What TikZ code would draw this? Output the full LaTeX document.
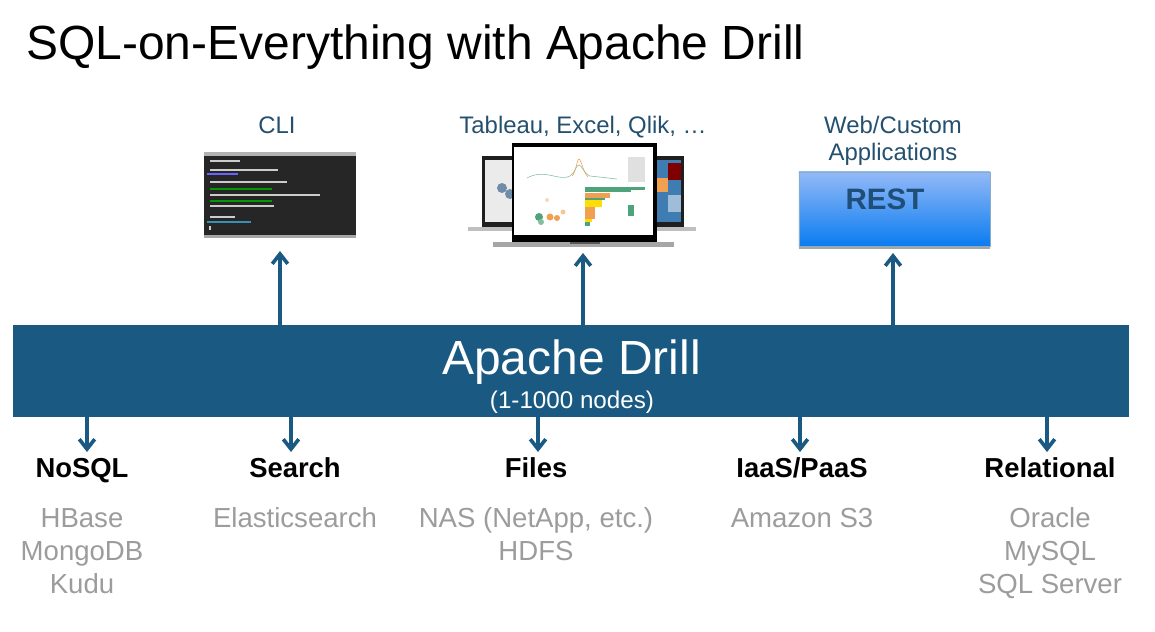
\documentclass[tikz,border=0pt]{standalone}
\usepackage{fontspec}
\setmainfont{Liberation Sans}
\usetikzlibrary{shadows, arrows.meta}
\definecolor{drillblue}{HTML}{1A5A82}
\definecolor{capblue}{HTML}{24506F}
\definecolor{itemgray}{HTML}{9C9C9C}
\definecolor{restblue}{HTML}{1F4E79}
\definecolor{resttop}{HTML}{93B9F7}
\definecolor{restbottom}{HTML}{0A7CF0}
\definecolor{chartgreen}{HTML}{4FA37A}
\definecolor{chartorange}{HTML}{F0A050}
\definecolor{mapblue}{HTML}{6F8CA8}
\definecolor{treeblue}{HTML}{3E7CB1}
\begin{document}
\begin{tikzpicture}[
                x=0.025cm, y=-0.025cm,
                titlenode/.style={font=\fontsize{34.1}{36}\selectfont, text=black},
                capnode/.style={font=\fontsize{17}{19.2}\selectfont, text=capblue, align=center},
                headnode/.style={font=\fontsize{19.5}{22}\selectfont\bfseries, text=black, anchor=base},
                itemnode/.style={font=\fontsize{19.6}{23.4}\selectfont, text=itemgray, align=center, anchor=north},
                flow/.style={-{Straight Barb[length=7pt, width=11pt]}, drillblue, line width=2.6pt},
                screen/.style={inner sep=0pt, drop shadow={shadow xshift=0pt, shadow yshift=-2pt, fill=black!35, opacity=1}},
                codeline/.style={white!80!black, line width=1pt}
            ]
            \useasboundingbox (0, 0) rectangle (1155, 631);
            \node[titlenode] (title) at (415.5, 47.5) {SQL-on-Everything with Apache Drill};

            % middle bar
            \node[fill=drillblue, minimum width=27.9cm, minimum height=2.3cm, inner sep=0pt] (drill) at (571, 371) {};
            \node[font=\fontsize{34.1}{36}\selectfont, text=white] (drillname) at (571.5, 362) {Apache Drill};
            \node[font=\fontsize{17.2}{19}\selectfont, text=white] (drillsize) at (572, 402) {(1-1000 nodes)};

            % top row
            \node[capnode] (clicap) at (277, 125) {CLI};
            \node[capnode] (toolcap) at (583, 127) {Tableau, Excel, Qlik, \dots};
            \node[capnode] (webcap) at (893, 141) {Web/Custom\\Applications};

            \node[screen, fill=black!85, minimum width=3.8cm, minimum height=2.08cm] (cli) at (280, 193.5) {};
            \fill[black!30] (204, 152) rectangle (356, 156);
            \draw[codeline] (210, 161) -- (240, 161);
            \fill[blue!60] (207, 173) rectangle (238, 175);
            \draw[codeline] (210, 170) -- (278, 170);
            \draw[codeline] (210, 182) -- (287, 182);
            \draw[codeline, green!60!black] (210, 189) -- (272, 189);
            \draw[codeline] (210, 195) -- (320, 195);
            \draw[codeline, green!60!black] (210, 201) -- (272, 201);
            \draw[codeline] (210, 206) -- (274, 206);
            \draw[codeline] (210, 217) -- (235, 217);
            \draw[codeline, cyan!70!black] (207, 222) -- (251, 222);
            \fill[white!80!black] (209, 226) rectangle (211, 230);

            % laptops behind
            \node[fill=black!88, minimum width=5.05cm, minimum height=1.75cm, inner sep=0pt] (backlaptop) at (583, 191.5) {};
            \fill[white!92!black] (485, 160) rectangle (512, 222);
            \fill[mapblue] (502, 188) circle (5);
            \fill[mapblue] (510, 194) circle (5);
            \fill[treeblue] (657, 160) rectangle (681, 222);
            \fill[chartorange] (657, 178) rectangle (668, 192);
            \fill[treeblue!50] (668, 195) rectangle (681, 212);
            \fill[red!50!black] (668, 163) rectangle (681, 180);
            \fill[black!25] (468, 227) rectangle (696, 231);

            % front laptop
            \node[fill=black, minimum width=3.63cm, minimum height=2.48cm, inner sep=0pt] (laptop) at (584.5, 192.5) {};
            \fill[white] (514, 147) rectangle (653, 235);
            \draw[chartgreen!70] (527, 178) .. controls (545, 168) and (560, 182) .. (570, 176) .. controls (575, 173) and (576, 165) .. (579, 165) .. controls (582, 165) and (583, 173) .. (590, 176) -- (617, 179);
            \draw[chartorange] (572, 176) .. controls (576, 172) and (577, 159) .. (579, 159) .. controls (581, 159) and (583, 172) .. (588, 177);
            \fill[chartgreen] (585, 187) rectangle (645, 190);
            \fill[chartgreen] (585, 190) rectangle (631, 192);
            \fill[chartorange] (585, 193) rectangle (610, 198);
            \fill[chartgreen] (585, 198) rectangle (605, 200);
            \fill[yellow!80!orange] (585, 200) rectangle (602, 207);
            \fill[chartorange] (585, 207) rectangle (595, 219);
            \fill[yellow!80!orange] (585, 219) rectangle (592, 222);
            \fill[chartgreen] (585, 222) rectangle (590, 226);
            \fill[chartgreen] (539, 217) circle (4);
            \fill[chartgreen!70] (541, 222) circle (3);
            \fill[chartorange] (550, 217) circle (3.5);
            \fill[chartorange] (557, 218) circle (3);
            \fill[chartorange!60] (563, 212) circle (2.5);
            \fill[chartorange!40] (547, 200) circle (2);
            \fill[black!12] (628, 157) rectangle (645, 182);
            \fill[chartgreen] (628, 205) rectangle (634, 216);
            \fill[black!35] (493, 242) rectangle (674, 247);
            \fill[black!65] (570, 242) rectangle (600, 244);

            % rest box
            \node[screen, top color=resttop, bottom color=restbottom, draw=drillblue!50, minimum width=4.775cm, minimum height=1.85cm] (rest) at (894.5, 209) {};
            \node[font=\fontsize{21}{24}\selectfont\bfseries, text=restblue] (resttext) at (885, 199) {REST};

            % upward arrows
            \coordinate (cliend) at (280, 251);
            \coordinate (laptopend) at (583, 253);
            \coordinate (restend) at (893, 253);
            \draw[flow] (drill.north -| cliend) -- (cliend);
            \draw[flow] (drill.north -| laptopend) -- (laptopend);
            \draw[flow] (drill.north -| restend) -- (restend);

            % bottom row
            \node[headnode] (nosql) at (82, 477) {NoSQL};
            \node[headnode] (search) at (295, 477) {Search};
            \node[headnode] (files) at (536, 477) {Files};
            \node[headnode] (iaas) at (802, 477) {IaaS/PaaS};
            \node[headnode] (relational) at (1050, 477) {Relational};

            \node[itemnode] (nosqlitems) at (82, 503.5) {HBase\\MongoDB\\Kudu};
            \node[itemnode] (searchitems) at (295, 503) {Elasticsearch};
            \node[itemnode] (filesitems) at (536, 503) {NAS (NetApp, etc.)\\HDFS};
            \node[itemnode] (iaasitems) at (802, 503.5) {Amazon S3};
            \node[itemnode] (relationalitems) at (1050, 503) {Oracle\\MySQL\\SQL Server};

            \coordinate (nosqlend) at (87, 452);
            \coordinate (searchend) at (291, 452);
            \coordinate (filesend) at (538, 452);
            \coordinate (iaasend) at (800, 452);
            \coordinate (relationalend) at (1047, 452);
            \draw[flow] (drill.south -| nosqlend) -- (nosqlend);
            \draw[flow] (drill.south -| searchend) -- (searchend);
            \draw[flow] (drill.south -| filesend) -- (filesend);
            \draw[flow] (drill.south -| iaasend) -- (iaasend);
            \draw[flow] (drill.south -| relationalend) -- (relationalend);
        \end{tikzpicture}
\end{document}
